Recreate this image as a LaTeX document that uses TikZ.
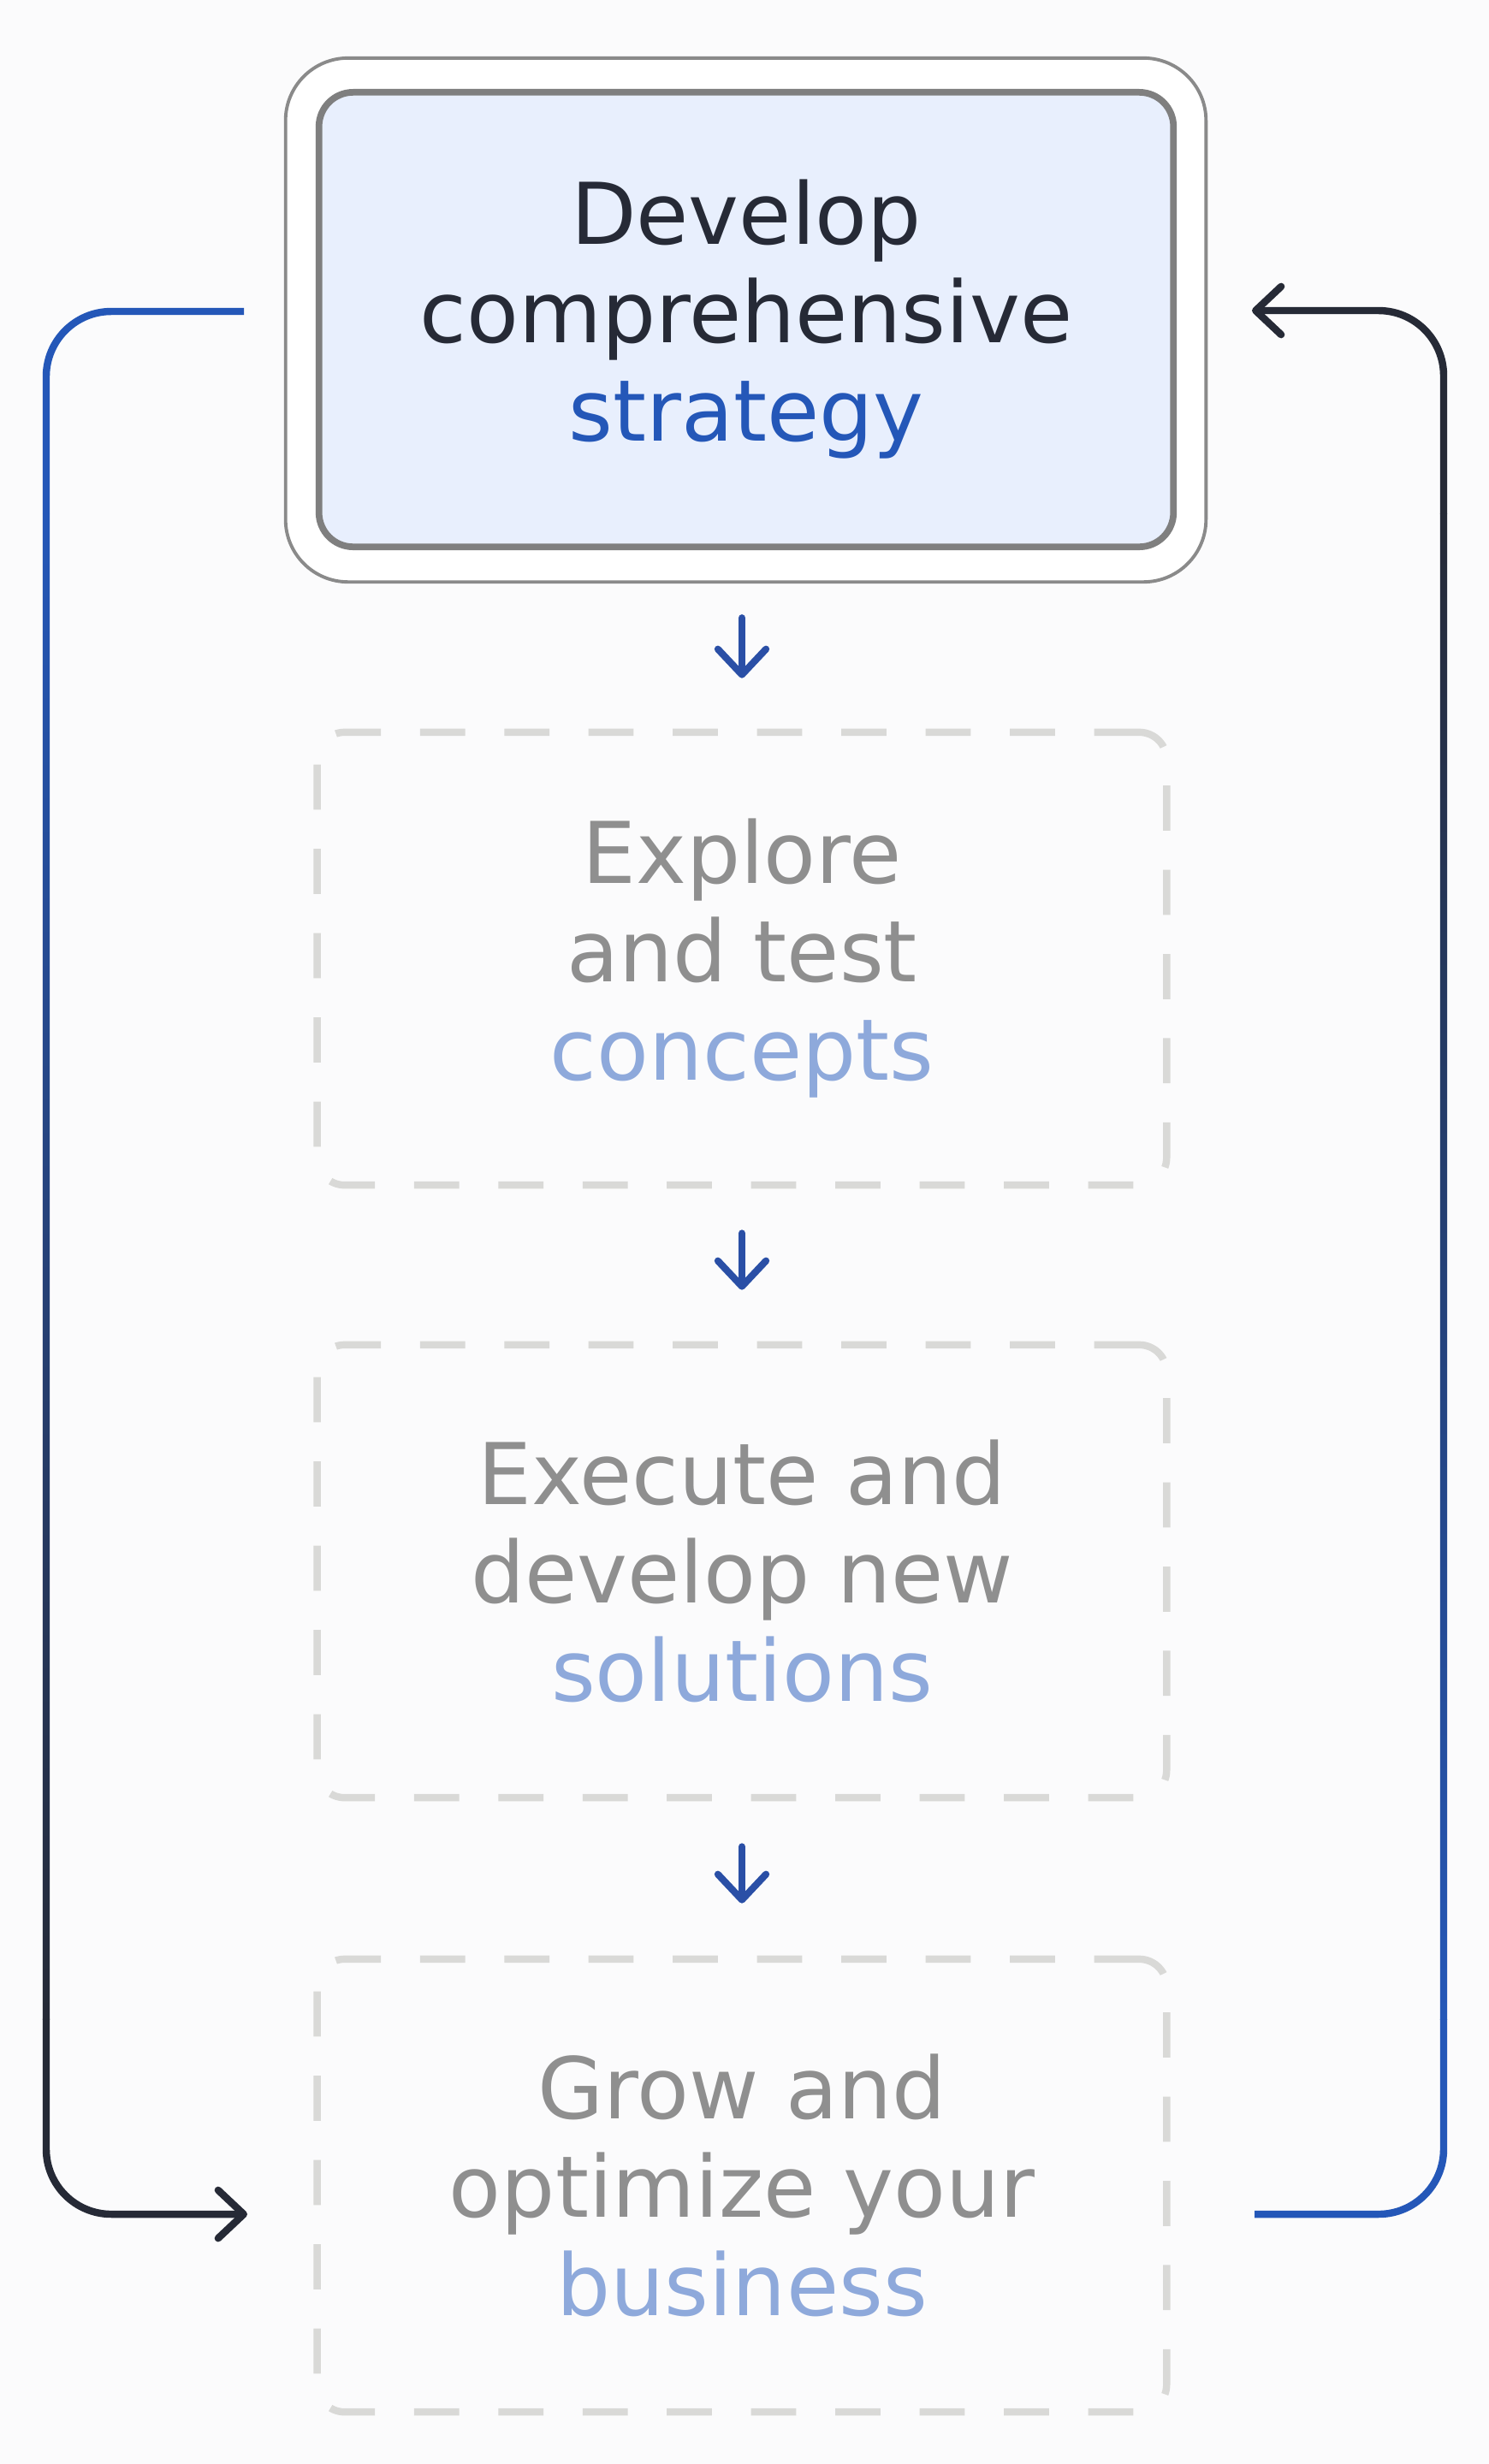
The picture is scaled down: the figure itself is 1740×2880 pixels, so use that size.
\documentclass[tikz,border=0pt]{standalone}
\usepackage{fontspec}
\setmainfont{DejaVu Sans}
\usepackage{tikz}
\usetikzlibrary{arrows.meta,positioning,calc}
\definecolor{pagebg}{HTML}{FBFBFC}
\definecolor{topfill}{HTML}{E8EFFD}
\definecolor{framegray}{HTML}{8A8A8A}
\definecolor{boxgray}{HTML}{7F7F7F}
\definecolor{dashgray}{HTML}{D9D9D7}
\definecolor{inkdark}{HTML}{262A36}
\definecolor{inkblue}{HTML}{2457B8}
\definecolor{textgray}{HTML}{8F8F8F}
\definecolor{paleblue}{HTML}{8EA9DB}
\definecolor{arrowblue}{HTML}{2A4FA6}

\begin{document}
\begin{tikzpicture}[x=0.01cm,y=-0.01cm,
    steptext/.style={align=center,font=\fontsize{28.3}{32.7}\selectfont},
    topbox/.style={steptext,draw=boxgray,line width=2.2pt,fill=topfill,rounded corners=0.4cm,
        minimum width=9.98cm,minimum height=5.31cm,text=inkdark},
    ghostbox/.style={steptext,draw=dashgray,line width=2.4pt,dash pattern=on 15pt off 13pt,
        fill=pagebg,rounded corners=0.32cm,minimum width=9.92cm,minimum height=5.29cm,text=textgray},
    downarrow/.style={draw=arrowblue,line width=2.3pt,line cap=round,
        -{Straight Barb[length=8.5pt,width=16pt,round]}},
    loopline/.style={line width=2.4pt,rounded corners=0.76cm},
    looparrow/.style={loopline,line cap=round,-{Straight Barb[length=8.5pt,width=16pt,round]}}]
    \fill [pagebg] (0,0) rectangle (1740,2880);
    % steps
    \node [draw=framegray,line width=1.1pt,fill=white,rounded corners=0.73cm,
        minimum width=10.75cm,minimum height=6.12cm] (frame) at (871.5,374) {};
    \node [topbox] (develop) at (872,373.5) {Develop\\comprehensive\\\textcolor{inkblue}{strategy}};
    \node [ghostbox] (explore) at (867,1120.5) {Explore\\and test\\\textcolor{paleblue}{concepts}};
    \node [ghostbox] (execute) at (867,1836.5) {Execute and\\develop new\\\textcolor{paleblue}{solutions}};
    \node [ghostbox] (grow) at (867,2554.5) {Grow and\\optimize your\\\textcolor{paleblue}{business}};
    % arrows between steps
    \draw [downarrow,shorten <=0.4cm,shorten >=0.59cm] (explore.north |- frame.south) -- (explore.north);
    \draw [downarrow,shorten <=0.52cm,shorten >=0.6cm] (explore.south) -- (execute.north);
    \draw [downarrow,shorten <=0.53cm,shorten >=0.61cm] (execute.south) -- (grow.north);
    % loop ends
    \coordinate (lstart) at (285,364);
    \coordinate (ltop) at (54,600);
    \coordinate (lbot) at (54,2360);
    \coordinate (lend) at (289,2588);
    \coordinate (rstart) at (1466,2588);
    \coordinate (rbot) at (1687,2360);
    \coordinate (rtop) at (1687,600);
    \coordinate (rend) at (1463,363);
    % left loop, blue into dark
    \draw [loopline,inkblue] (lstart) -| (ltop);
    \shade [top color=inkblue,bottom color=inkdark] ($(ltop)+(-4.2,0)$) rectangle ($(lbot)+(4.2,0)$);
    \draw [looparrow,inkdark] (lbot) |- (lend);
    % right loop, blue into dark
    \draw [loopline,inkblue] (rstart) -| (rbot);
    \shade [top color=inkdark,bottom color=inkblue] ($(rtop)+(-4.2,0)$) rectangle ($(rbot)+(4.2,0)$);
    \draw [looparrow,inkdark] (rtop) |- (rend);
\end{tikzpicture}
\end{document}
